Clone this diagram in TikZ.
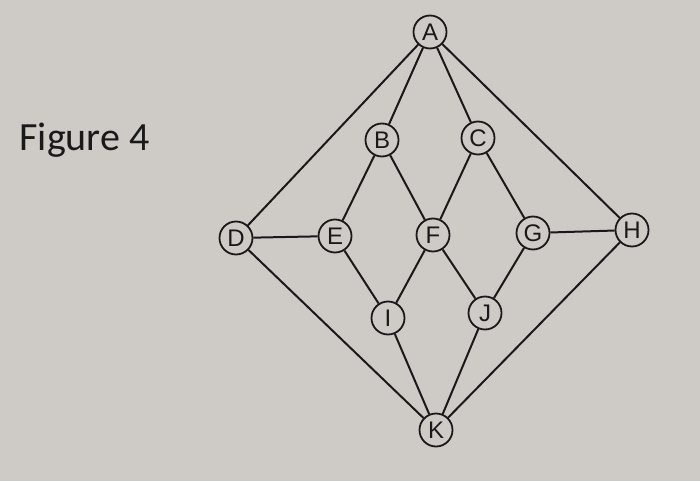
\documentclass[tikz,border=0pt]{standalone}
\usepackage{fontspec}
\setmainfont{Carlito}
\newfontfamily\labfont{Liberation Sans}
\definecolor{paper}{RGB}{206,203,199}
\definecolor{ink}{RGB}{25,25,25}
\begin{document}
\begin{tikzpicture}[x=1pt,y=-1pt,
  vert/.style={circle,draw=ink,line width=1.8pt,minimum size=33pt,inner sep=0pt,fill=paper,font=\labfont\fontsize{24}{24}\selectfont,text=ink},
  edge/.style={draw=ink,line width=2pt}]
\fill[paper] (0,0) rectangle (700,481);
\useasboundingbox (0,0) rectangle (700,481);
\node[anchor=base west,font=\fontsize{40}{40}\selectfont,text=ink] (title) at (16,150) {Figure 4};
\node[vert] (A) at (430,32) {A};
\node[vert] (B) at (382,140) {B};
\node[vert] (C) at (478,138) {C};
\node[vert] (D) at (236,238) {D};
\node[vert] (E) at (335,236) {E};
\node[vert] (F) at (433,235) {F};
\node[vert] (G) at (533,233) {G};
\node[vert] (H) at (632,230) {H};
\node[vert] (I) at (388,318) {I};
\node[vert] (J) at (485,313) {J};
\node[vert] (K) at (436,430) {K};
\foreach \a/\b in {A/B,A/C,A/D,A/H,B/E,B/F,C/F,C/G,D/E,D/K,E/I,F/I,F/J,G/J,G/H,H/K,I/K,J/K}
  \draw[edge] (\a) -- (\b);
\end{tikzpicture}
\end{document}
